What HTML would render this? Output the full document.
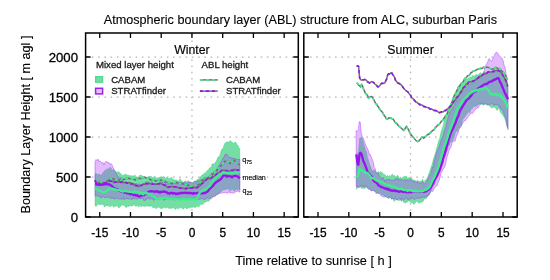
<!DOCTYPE html>
<html><head><meta charset="utf-8"><style>
html,body{margin:0;padding:0;background:#fff;}
svg{display:block;}
text{font-family:"Liberation Sans",Arial,sans-serif;fill:#000;stroke:#000;stroke-width:0.3px;}
.grid line{stroke:#b4b4b4;stroke-width:1.25;stroke-dasharray:1.6 4.65;}
.tk{stroke:#000;stroke-width:1.3;fill:none;}
.fr{stroke:#000;stroke-width:1.5;fill:none;}
.tl{font-size:13.2px;}
.xl{font-size:11.9px;}
.sm{stroke-width:0.12px;}
.lg{font-size:9.6px;fill:#1a1a1a;stroke:#1a1a1a;}
</style></head><body>
<svg width="550" height="280" viewBox="0 0 550 280">
<rect width="550" height="280" fill="#fff"/>
<text x="300.4" y="23.8" text-anchor="middle" style="font-size:12.62px;stroke-width:0.1px">Atmospheric boundary layer (ABL) structure from ALC, suburban Paris</text>
<g class="grid"><line x1="191.95" y1="217.0" x2="191.95" y2="33.0"/><line x1="85.6" y1="177.00" x2="298.3" y2="177.00"/><line x1="85.6" y1="137.00" x2="298.3" y2="137.00"/><line x1="85.6" y1="97.00" x2="298.3" y2="97.00"/><line x1="85.6" y1="57.00" x2="298.3" y2="57.00"/></g>
<g class="grid"><line x1="410.50" y1="217.0" x2="410.50" y2="33.0"/><line x1="303.8" y1="177.00" x2="517.2" y2="177.00"/><line x1="303.8" y1="137.00" x2="517.2" y2="137.00"/><line x1="303.8" y1="97.00" x2="517.2" y2="97.00"/><line x1="303.8" y1="57.00" x2="517.2" y2="57.00"/></g>
<path d="M95.0 174.4 L96.0 173.1 L97.0 174.8 L98.0 174.6 L99.0 173.9 L100.0 174.6 L101.0 175.8 L102.0 174.0 L103.0 172.5 L104.0 171.8 L105.0 170.0 L106.0 170.7 L107.0 168.5 L108.0 169.3 L109.0 168.7 L110.0 167.2 L111.0 167.9 L112.0 170.2 L113.0 169.7 L114.0 169.6 L115.0 170.9 L116.0 172.0 L117.0 171.9 L118.0 172.2 L119.0 171.5 L120.0 173.4 L121.0 173.8 L122.0 174.9 L123.0 175.5 L124.0 175.3 L125.0 174.0 L126.0 174.6 L127.0 174.8 L128.0 175.7 L129.0 174.8 L130.0 176.3 L131.0 175.5 L132.0 175.7 L133.0 176.1 L134.0 175.9 L135.0 174.7 L136.0 177.8 L137.0 177.3 L138.0 177.6 L139.0 176.0 L140.0 175.1 L141.0 175.2 L142.0 175.4 L143.0 176.8 L144.0 176.9 L145.0 177.4 L146.0 178.0 L147.0 176.9 L148.0 176.9 L149.0 176.5 L150.0 176.6 L151.0 176.1 L152.0 177.4 L153.0 177.4 L154.0 176.9 L155.0 176.7 L156.0 177.7 L157.0 178.4 L158.0 177.5 L159.0 177.6 L160.0 177.0 L161.0 177.1 L162.0 177.0 L163.0 176.9 L164.0 176.6 L165.0 177.5 L166.0 178.5 L167.0 177.1 L168.0 179.2 L169.0 178.1 L170.0 178.4 L171.0 177.4 L172.0 177.5 L173.0 180.2 L174.0 178.9 L175.0 180.4 L176.0 179.9 L177.0 180.2 L178.0 181.3 L179.0 180.5 L180.0 178.4 L181.0 179.9 L182.0 182.1 L183.0 182.9 L184.0 181.5 L185.0 181.1 L186.0 180.7 L187.0 182.2 L188.0 180.6 L189.0 181.1 L190.0 182.2 L191.0 182.3 L192.0 182.1 L193.0 183.2 L194.0 181.6 L195.0 180.9 L196.0 180.7 L197.0 180.0 L198.0 178.7 L199.0 179.6 L200.0 176.7 L201.0 176.8 L202.0 175.0 L203.0 174.8 L204.0 173.5 L205.0 172.7 L206.0 173.0 L207.0 170.3 L208.0 171.0 L209.0 168.4 L210.0 167.6 L211.0 167.8 L212.0 164.1 L213.0 163.7 L214.0 163.9 L215.0 162.8 L216.0 161.5 L217.0 159.4 L218.0 157.1 L219.0 156.8 L220.0 154.8 L221.0 151.2 L222.0 149.1 L223.0 148.4 L224.0 145.3 L225.0 143.1 L226.0 142.5 L227.0 141.8 L228.0 142.0 L229.0 142.1 L230.0 140.7 L231.0 140.9 L232.0 142.4 L233.0 142.7 L234.0 143.7 L235.0 141.8 L236.0 142.6 L237.0 145.3 L238.0 145.2 L239.0 147.7 L239.8 149.0 L239.8 190.2 L239.0 187.9 L238.0 189.8 L237.0 190.0 L236.0 188.7 L235.0 191.0 L234.0 191.2 L233.0 189.7 L232.0 188.9 L231.0 190.4 L230.0 190.9 L229.0 189.3 L228.0 188.8 L227.0 189.4 L226.0 189.1 L225.0 190.0 L224.0 189.7 L223.0 190.0 L222.0 191.0 L221.0 191.9 L220.0 192.2 L219.0 194.0 L218.0 193.4 L217.0 193.7 L216.0 196.0 L215.0 195.5 L214.0 195.5 L213.0 196.8 L212.0 197.1 L211.0 197.3 L210.0 200.2 L209.0 200.5 L208.0 201.8 L207.0 200.6 L206.0 202.1 L205.0 201.9 L204.0 203.0 L203.0 204.3 L202.0 204.6 L201.0 204.2 L200.0 204.5 L199.0 206.8 L198.0 206.3 L197.0 206.2 L196.0 206.9 L195.0 207.4 L194.0 207.3 L193.0 206.4 L192.0 208.0 L191.0 206.2 L190.0 208.3 L189.0 207.6 L188.0 207.9 L187.0 208.9 L186.0 208.2 L185.0 207.4 L184.0 208.5 L183.0 209.2 L182.0 208.1 L181.0 207.2 L180.0 207.5 L179.0 208.6 L178.0 209.0 L177.0 207.1 L176.0 209.2 L175.0 209.2 L174.0 208.3 L173.0 206.9 L172.0 208.6 L171.0 208.2 L170.0 208.3 L169.0 208.6 L168.0 207.8 L167.0 206.9 L166.0 208.5 L165.0 206.4 L164.0 207.7 L163.0 207.8 L162.0 208.7 L161.0 208.2 L160.0 208.3 L159.0 206.8 L158.0 207.5 L157.0 208.0 L156.0 208.7 L155.0 207.6 L154.0 207.2 L153.0 207.9 L152.0 205.9 L151.0 206.1 L150.0 206.4 L149.0 205.9 L148.0 206.3 L147.0 206.0 L146.0 206.3 L145.0 206.0 L144.0 206.7 L143.0 205.7 L142.0 206.1 L141.0 207.1 L140.0 204.6 L139.0 206.8 L138.0 206.4 L137.0 205.4 L136.0 206.2 L135.0 206.0 L134.0 203.7 L133.0 205.8 L132.0 206.1 L131.0 206.1 L130.0 205.4 L129.0 206.4 L128.0 206.2 L127.0 207.1 L126.0 207.4 L125.0 206.7 L124.0 204.5 L123.0 205.8 L122.0 204.5 L121.0 206.1 L120.0 206.7 L119.0 208.1 L118.0 207.2 L117.0 205.3 L116.0 206.5 L115.0 205.9 L114.0 207.1 L113.0 206.6 L112.0 205.5 L111.0 205.9 L110.0 207.1 L109.0 206.1 L108.0 205.8 L107.0 205.9 L106.0 204.9 L105.0 207.0 L104.0 206.5 L103.0 202.9 L102.0 204.9 L101.0 204.2 L100.0 205.1 L99.0 204.2 L98.0 204.0 L97.0 205.6 L96.0 206.6 L95.0 205.6Z" fill="#fff"/>
<path d="M95.0 162.3 L96.0 159.5 L97.0 160.7 L98.0 159.1 L99.0 161.8 L100.0 160.8 L101.0 162.2 L102.0 163.0 L103.0 162.4 L104.0 165.1 L105.0 162.3 L106.0 161.7 L107.0 161.6 L108.0 163.1 L109.0 162.4 L110.0 164.7 L111.0 163.5 L112.0 164.8 L113.0 167.3 L114.0 169.9 L115.0 171.0 L116.0 173.1 L117.0 174.9 L118.0 177.2 L119.0 177.2 L120.0 178.4 L121.0 177.3 L122.0 179.8 L123.0 180.5 L124.0 182.3 L125.0 182.7 L126.0 182.1 L127.0 182.5 L128.0 182.2 L129.0 181.8 L130.0 182.5 L131.0 182.4 L132.0 183.2 L133.0 183.7 L134.0 183.2 L135.0 184.5 L136.0 183.1 L137.0 184.3 L138.0 184.8 L139.0 183.6 L140.0 185.1 L141.0 184.8 L142.0 185.2 L143.0 183.5 L144.0 183.7 L145.0 183.5 L146.0 181.6 L147.0 182.8 L148.0 181.5 L149.0 182.9 L150.0 183.4 L151.0 183.1 L152.0 181.5 L153.0 184.3 L154.0 183.5 L155.0 184.1 L156.0 183.0 L157.0 182.9 L158.0 184.4 L159.0 182.3 L160.0 181.8 L161.0 182.0 L162.0 183.2 L163.0 181.4 L164.0 182.5 L165.0 182.2 L166.0 185.0 L167.0 184.1 L168.0 183.5 L169.0 183.7 L170.0 183.2 L171.0 183.0 L172.0 183.2 L173.0 184.6 L174.0 183.0 L175.0 182.9 L176.0 183.3 L177.0 184.1 L178.0 183.3 L179.0 182.1 L180.0 182.9 L181.0 182.8 L182.0 181.8 L183.0 182.2 L184.0 182.9 L185.0 182.3 L186.0 183.9 L187.0 182.9 L188.0 182.4 L189.0 182.7 L190.0 182.1 L191.0 182.4 L192.0 183.5 L193.0 182.9 L194.0 181.6 L195.0 181.5 L196.0 182.5 L197.0 180.8 L198.0 180.9 L199.0 181.5 L200.0 180.1 L201.0 179.5 L202.0 179.0 L203.0 179.6 L204.0 177.8 L205.0 177.0 L206.0 177.5 L207.0 178.2 L208.0 176.8 L209.0 177.2 L210.0 176.5 L211.0 173.7 L212.0 173.6 L213.0 172.5 L214.0 171.6 L215.0 171.3 L216.0 170.3 L217.0 168.6 L218.0 167.8 L219.0 165.0 L220.0 164.6 L221.0 161.7 L222.0 160.4 L223.0 157.8 L224.0 157.8 L225.0 154.5 L226.0 154.6 L227.0 154.2 L228.0 156.2 L229.0 157.4 L230.0 157.2 L231.0 157.7 L232.0 158.1 L233.0 158.3 L234.0 158.3 L235.0 158.2 L236.0 159.8 L237.0 159.3 L238.0 159.6 L239.0 160.1 L239.8 159.1 L239.8 192.0 L239.0 192.1 L238.0 190.5 L237.0 191.8 L236.0 191.3 L235.0 192.2 L234.0 193.3 L233.0 192.8 L232.0 192.8 L231.0 192.6 L230.0 193.2 L229.0 191.1 L228.0 193.2 L227.0 193.2 L226.0 192.5 L225.0 192.5 L224.0 193.0 L223.0 192.5 L222.0 192.6 L221.0 193.8 L220.0 192.5 L219.0 193.0 L218.0 194.7 L217.0 194.3 L216.0 194.4 L215.0 196.5 L214.0 197.1 L213.0 196.0 L212.0 198.4 L211.0 198.1 L210.0 197.9 L209.0 198.8 L208.0 197.6 L207.0 197.9 L206.0 198.7 L205.0 199.7 L204.0 199.2 L203.0 198.8 L202.0 198.5 L201.0 199.0 L200.0 198.8 L199.0 199.5 L198.0 199.1 L197.0 199.2 L196.0 199.0 L195.0 199.5 L194.0 197.4 L193.0 199.0 L192.0 198.3 L191.0 199.2 L190.0 199.6 L189.0 199.1 L188.0 199.8 L187.0 198.0 L186.0 198.3 L185.0 198.3 L184.0 199.1 L183.0 199.0 L182.0 199.7 L181.0 198.4 L180.0 198.3 L179.0 198.3 L178.0 198.3 L177.0 197.9 L176.0 199.6 L175.0 199.6 L174.0 200.2 L173.0 199.2 L172.0 199.5 L171.0 198.7 L170.0 200.2 L169.0 198.0 L168.0 199.3 L167.0 198.5 L166.0 199.5 L165.0 199.1 L164.0 200.6 L163.0 199.2 L162.0 198.6 L161.0 198.8 L160.0 198.9 L159.0 199.2 L158.0 200.1 L157.0 198.4 L156.0 199.0 L155.0 199.2 L154.0 200.5 L153.0 199.2 L152.0 198.5 L151.0 198.6 L150.0 199.3 L149.0 198.7 L148.0 197.4 L147.0 199.0 L146.0 199.9 L145.0 200.0 L144.0 200.8 L143.0 197.9 L142.0 198.3 L141.0 198.9 L140.0 198.5 L139.0 197.7 L138.0 198.8 L137.0 199.2 L136.0 198.5 L135.0 198.8 L134.0 199.1 L133.0 197.5 L132.0 199.8 L131.0 199.3 L130.0 198.3 L129.0 199.4 L128.0 198.4 L127.0 198.6 L126.0 198.2 L125.0 199.4 L124.0 199.5 L123.0 197.3 L122.0 199.5 L121.0 199.0 L120.0 198.3 L119.0 199.3 L118.0 198.6 L117.0 197.8 L116.0 197.9 L115.0 199.3 L114.0 198.2 L113.0 198.5 L112.0 197.8 L111.0 198.8 L110.0 196.5 L109.0 197.6 L108.0 197.8 L107.0 197.1 L106.0 197.0 L105.0 198.2 L104.0 196.9 L103.0 196.8 L102.0 196.6 L101.0 198.3 L100.0 196.5 L99.0 196.2 L98.0 196.0 L97.0 195.3 L96.0 196.0 L95.0 195.7Z" fill="#fff"/>
<path d="M95.0 174.4 L96.0 173.1 L97.0 174.8 L98.0 174.6 L99.0 173.9 L100.0 174.6 L101.0 175.8 L102.0 174.0 L103.0 172.5 L104.0 171.8 L105.0 170.0 L106.0 170.7 L107.0 168.5 L108.0 169.3 L109.0 168.7 L110.0 167.2 L111.0 167.9 L112.0 170.2 L113.0 169.7 L114.0 169.6 L115.0 170.9 L116.0 172.0 L117.0 171.9 L118.0 172.2 L119.0 171.5 L120.0 173.4 L121.0 173.8 L122.0 174.9 L123.0 175.5 L124.0 175.3 L125.0 174.0 L126.0 174.6 L127.0 174.8 L128.0 175.7 L129.0 174.8 L130.0 176.3 L131.0 175.5 L132.0 175.7 L133.0 176.1 L134.0 175.9 L135.0 174.7 L136.0 177.8 L137.0 177.3 L138.0 177.6 L139.0 176.0 L140.0 175.1 L141.0 175.2 L142.0 175.4 L143.0 176.8 L144.0 176.9 L145.0 177.4 L146.0 178.0 L147.0 176.9 L148.0 176.9 L149.0 176.5 L150.0 176.6 L151.0 176.1 L152.0 177.4 L153.0 177.4 L154.0 176.9 L155.0 176.7 L156.0 177.7 L157.0 178.4 L158.0 177.5 L159.0 177.6 L160.0 177.0 L161.0 177.1 L162.0 177.0 L163.0 176.9 L164.0 176.6 L165.0 177.5 L166.0 178.5 L167.0 177.1 L168.0 179.2 L169.0 178.1 L170.0 178.4 L171.0 177.4 L172.0 177.5 L173.0 180.2 L174.0 178.9 L175.0 180.4 L176.0 179.9 L177.0 180.2 L178.0 181.3 L179.0 180.5 L180.0 178.4 L181.0 179.9 L182.0 182.1 L183.0 182.9 L184.0 181.5 L185.0 181.1 L186.0 180.7 L187.0 182.2 L188.0 180.6 L189.0 181.1 L190.0 182.2 L191.0 182.3 L192.0 182.1 L193.0 183.2 L194.0 181.6 L195.0 180.9 L196.0 180.7 L197.0 180.0 L198.0 178.7 L199.0 179.6 L200.0 176.7 L201.0 176.8 L202.0 175.0 L203.0 174.8 L204.0 173.5 L205.0 172.7 L206.0 173.0 L207.0 170.3 L208.0 171.0 L209.0 168.4 L210.0 167.6 L211.0 167.8 L212.0 164.1 L213.0 163.7 L214.0 163.9 L215.0 162.8 L216.0 161.5 L217.0 159.4 L218.0 157.1 L219.0 156.8 L220.0 154.8 L221.0 151.2 L222.0 149.1 L223.0 148.4 L224.0 145.3 L225.0 143.1 L226.0 142.5 L227.0 141.8 L228.0 142.0 L229.0 142.1 L230.0 140.7 L231.0 140.9 L232.0 142.4 L233.0 142.7 L234.0 143.7 L235.0 141.8 L236.0 142.6 L237.0 145.3 L238.0 145.2 L239.0 147.7 L239.8 149.0 L239.8 190.2 L239.0 187.9 L238.0 189.8 L237.0 190.0 L236.0 188.7 L235.0 191.0 L234.0 191.2 L233.0 189.7 L232.0 188.9 L231.0 190.4 L230.0 190.9 L229.0 189.3 L228.0 188.8 L227.0 189.4 L226.0 189.1 L225.0 190.0 L224.0 189.7 L223.0 190.0 L222.0 191.0 L221.0 191.9 L220.0 192.2 L219.0 194.0 L218.0 193.4 L217.0 193.7 L216.0 196.0 L215.0 195.5 L214.0 195.5 L213.0 196.8 L212.0 197.1 L211.0 197.3 L210.0 200.2 L209.0 200.5 L208.0 201.8 L207.0 200.6 L206.0 202.1 L205.0 201.9 L204.0 203.0 L203.0 204.3 L202.0 204.6 L201.0 204.2 L200.0 204.5 L199.0 206.8 L198.0 206.3 L197.0 206.2 L196.0 206.9 L195.0 207.4 L194.0 207.3 L193.0 206.4 L192.0 208.0 L191.0 206.2 L190.0 208.3 L189.0 207.6 L188.0 207.9 L187.0 208.9 L186.0 208.2 L185.0 207.4 L184.0 208.5 L183.0 209.2 L182.0 208.1 L181.0 207.2 L180.0 207.5 L179.0 208.6 L178.0 209.0 L177.0 207.1 L176.0 209.2 L175.0 209.2 L174.0 208.3 L173.0 206.9 L172.0 208.6 L171.0 208.2 L170.0 208.3 L169.0 208.6 L168.0 207.8 L167.0 206.9 L166.0 208.5 L165.0 206.4 L164.0 207.7 L163.0 207.8 L162.0 208.7 L161.0 208.2 L160.0 208.3 L159.0 206.8 L158.0 207.5 L157.0 208.0 L156.0 208.7 L155.0 207.6 L154.0 207.2 L153.0 207.9 L152.0 205.9 L151.0 206.1 L150.0 206.4 L149.0 205.9 L148.0 206.3 L147.0 206.0 L146.0 206.3 L145.0 206.0 L144.0 206.7 L143.0 205.7 L142.0 206.1 L141.0 207.1 L140.0 204.6 L139.0 206.8 L138.0 206.4 L137.0 205.4 L136.0 206.2 L135.0 206.0 L134.0 203.7 L133.0 205.8 L132.0 206.1 L131.0 206.1 L130.0 205.4 L129.0 206.4 L128.0 206.2 L127.0 207.1 L126.0 207.4 L125.0 206.7 L124.0 204.5 L123.0 205.8 L122.0 204.5 L121.0 206.1 L120.0 206.7 L119.0 208.1 L118.0 207.2 L117.0 205.3 L116.0 206.5 L115.0 205.9 L114.0 207.1 L113.0 206.6 L112.0 205.5 L111.0 205.9 L110.0 207.1 L109.0 206.1 L108.0 205.8 L107.0 205.9 L106.0 204.9 L105.0 207.0 L104.0 206.5 L103.0 202.9 L102.0 204.9 L101.0 204.2 L100.0 205.1 L99.0 204.2 L98.0 204.0 L97.0 205.6 L96.0 206.6 L95.0 205.6Z" fill="rgba(4,195,91,0.55)" stroke="rgba(0,185,90,0.35)" stroke-width="0.8"/>
<path d="M95.0 162.3 L96.0 159.5 L97.0 160.7 L98.0 159.1 L99.0 161.8 L100.0 160.8 L101.0 162.2 L102.0 163.0 L103.0 162.4 L104.0 165.1 L105.0 162.3 L106.0 161.7 L107.0 161.6 L108.0 163.1 L109.0 162.4 L110.0 164.7 L111.0 163.5 L112.0 164.8 L113.0 167.3 L114.0 169.9 L115.0 171.0 L116.0 173.1 L117.0 174.9 L118.0 177.2 L119.0 177.2 L120.0 178.4 L121.0 177.3 L122.0 179.8 L123.0 180.5 L124.0 182.3 L125.0 182.7 L126.0 182.1 L127.0 182.5 L128.0 182.2 L129.0 181.8 L130.0 182.5 L131.0 182.4 L132.0 183.2 L133.0 183.7 L134.0 183.2 L135.0 184.5 L136.0 183.1 L137.0 184.3 L138.0 184.8 L139.0 183.6 L140.0 185.1 L141.0 184.8 L142.0 185.2 L143.0 183.5 L144.0 183.7 L145.0 183.5 L146.0 181.6 L147.0 182.8 L148.0 181.5 L149.0 182.9 L150.0 183.4 L151.0 183.1 L152.0 181.5 L153.0 184.3 L154.0 183.5 L155.0 184.1 L156.0 183.0 L157.0 182.9 L158.0 184.4 L159.0 182.3 L160.0 181.8 L161.0 182.0 L162.0 183.2 L163.0 181.4 L164.0 182.5 L165.0 182.2 L166.0 185.0 L167.0 184.1 L168.0 183.5 L169.0 183.7 L170.0 183.2 L171.0 183.0 L172.0 183.2 L173.0 184.6 L174.0 183.0 L175.0 182.9 L176.0 183.3 L177.0 184.1 L178.0 183.3 L179.0 182.1 L180.0 182.9 L181.0 182.8 L182.0 181.8 L183.0 182.2 L184.0 182.9 L185.0 182.3 L186.0 183.9 L187.0 182.9 L188.0 182.4 L189.0 182.7 L190.0 182.1 L191.0 182.4 L192.0 183.5 L193.0 182.9 L194.0 181.6 L195.0 181.5 L196.0 182.5 L197.0 180.8 L198.0 180.9 L199.0 181.5 L200.0 180.1 L201.0 179.5 L202.0 179.0 L203.0 179.6 L204.0 177.8 L205.0 177.0 L206.0 177.5 L207.0 178.2 L208.0 176.8 L209.0 177.2 L210.0 176.5 L211.0 173.7 L212.0 173.6 L213.0 172.5 L214.0 171.6 L215.0 171.3 L216.0 170.3 L217.0 168.6 L218.0 167.8 L219.0 165.0 L220.0 164.6 L221.0 161.7 L222.0 160.4 L223.0 157.8 L224.0 157.8 L225.0 154.5 L226.0 154.6 L227.0 154.2 L228.0 156.2 L229.0 157.4 L230.0 157.2 L231.0 157.7 L232.0 158.1 L233.0 158.3 L234.0 158.3 L235.0 158.2 L236.0 159.8 L237.0 159.3 L238.0 159.6 L239.0 160.1 L239.8 159.1 L239.8 192.0 L239.0 192.1 L238.0 190.5 L237.0 191.8 L236.0 191.3 L235.0 192.2 L234.0 193.3 L233.0 192.8 L232.0 192.8 L231.0 192.6 L230.0 193.2 L229.0 191.1 L228.0 193.2 L227.0 193.2 L226.0 192.5 L225.0 192.5 L224.0 193.0 L223.0 192.5 L222.0 192.6 L221.0 193.8 L220.0 192.5 L219.0 193.0 L218.0 194.7 L217.0 194.3 L216.0 194.4 L215.0 196.5 L214.0 197.1 L213.0 196.0 L212.0 198.4 L211.0 198.1 L210.0 197.9 L209.0 198.8 L208.0 197.6 L207.0 197.9 L206.0 198.7 L205.0 199.7 L204.0 199.2 L203.0 198.8 L202.0 198.5 L201.0 199.0 L200.0 198.8 L199.0 199.5 L198.0 199.1 L197.0 199.2 L196.0 199.0 L195.0 199.5 L194.0 197.4 L193.0 199.0 L192.0 198.3 L191.0 199.2 L190.0 199.6 L189.0 199.1 L188.0 199.8 L187.0 198.0 L186.0 198.3 L185.0 198.3 L184.0 199.1 L183.0 199.0 L182.0 199.7 L181.0 198.4 L180.0 198.3 L179.0 198.3 L178.0 198.3 L177.0 197.9 L176.0 199.6 L175.0 199.6 L174.0 200.2 L173.0 199.2 L172.0 199.5 L171.0 198.7 L170.0 200.2 L169.0 198.0 L168.0 199.3 L167.0 198.5 L166.0 199.5 L165.0 199.1 L164.0 200.6 L163.0 199.2 L162.0 198.6 L161.0 198.8 L160.0 198.9 L159.0 199.2 L158.0 200.1 L157.0 198.4 L156.0 199.0 L155.0 199.2 L154.0 200.5 L153.0 199.2 L152.0 198.5 L151.0 198.6 L150.0 199.3 L149.0 198.7 L148.0 197.4 L147.0 199.0 L146.0 199.9 L145.0 200.0 L144.0 200.8 L143.0 197.9 L142.0 198.3 L141.0 198.9 L140.0 198.5 L139.0 197.7 L138.0 198.8 L137.0 199.2 L136.0 198.5 L135.0 198.8 L134.0 199.1 L133.0 197.5 L132.0 199.8 L131.0 199.3 L130.0 198.3 L129.0 199.4 L128.0 198.4 L127.0 198.6 L126.0 198.2 L125.0 199.4 L124.0 199.5 L123.0 197.3 L122.0 199.5 L121.0 199.0 L120.0 198.3 L119.0 199.3 L118.0 198.6 L117.0 197.8 L116.0 197.9 L115.0 199.3 L114.0 198.2 L113.0 198.5 L112.0 197.8 L111.0 198.8 L110.0 196.5 L109.0 197.6 L108.0 197.8 L107.0 197.1 L106.0 197.0 L105.0 198.2 L104.0 196.9 L103.0 196.8 L102.0 196.6 L101.0 198.3 L100.0 196.5 L99.0 196.2 L98.0 196.0 L97.0 195.3 L96.0 196.0 L95.0 195.7Z" fill="rgba(176,64,250,0.36)" stroke="rgba(160,40,240,0.5)" stroke-width="0.8"/>
<path d="M95.0 181.0 L96.0 182.0 L97.0 181.8 L98.0 182.4 L99.0 182.3 L100.0 183.6 L101.0 182.7 L102.0 182.9 L103.0 182.5 L104.0 183.1 L105.0 182.3 L106.0 181.7 L107.0 181.5 L108.0 180.7 L109.0 179.9 L110.0 179.5 L111.0 178.5 L112.0 179.3 L113.0 178.6 L114.0 179.3 L115.0 179.7 L116.0 179.7 L117.0 180.3 L118.0 179.9 L119.0 180.2 L120.0 179.8 L121.0 180.6 L122.0 179.4 L123.0 179.8 L124.0 179.1 L125.0 179.2 L126.0 178.2 L127.0 178.4 L128.0 178.6 L129.0 178.3 L130.0 178.7 L131.0 178.9 L132.0 178.8 L133.0 178.9 L134.0 179.3 L135.0 180.1 L136.0 179.1 L137.0 179.4 L138.0 178.4 L139.0 178.5 L140.0 178.6 L141.0 178.6 L142.0 177.9 L143.0 177.8 L144.0 177.0 L145.0 177.2 L146.0 177.9 L147.0 177.8 L148.0 177.8 L149.0 177.9 L150.0 179.5 L151.0 180.0 L152.0 180.0 L153.0 180.4 L154.0 180.1 L155.0 180.9 L156.0 180.9 L157.0 180.6 L158.0 179.8 L159.0 180.0 L160.0 179.5 L161.0 180.5 L162.0 180.2 L163.0 181.1 L164.0 181.0 L165.0 181.0 L166.0 182.1 L167.0 182.6 L168.0 182.8 L169.0 182.5 L170.0 183.3 L171.0 183.5 L172.0 183.5 L173.0 183.1 L174.0 182.8 L175.0 182.5 L176.0 182.3 L177.0 182.4 L178.0 183.1 L179.0 183.4 L180.0 183.1 L181.0 183.2 L182.0 183.8 L183.0 183.9 L184.0 184.2 L185.0 184.1 L186.0 184.3 L187.0 185.2 L188.0 184.9 L189.0 185.8 L190.0 185.8 L191.0 186.4 L192.0 186.6 L193.0 187.0 L194.0 187.2 L195.0 187.5 L196.0 186.3 L197.0 185.6 L198.0 184.9 L199.0 184.5 L200.0 182.9 L201.0 181.8 L202.0 180.7 L203.0 180.3 L204.0 179.5 L205.0 178.9 L206.0 178.5 L207.0 178.3 L208.0 177.5 L209.0 177.2 L210.0 176.3 L211.0 175.9 L212.0 175.0 L213.0 174.0 L214.0 173.2 L215.0 171.7 L216.0 171.4 L217.0 169.9 L218.0 168.7 L219.0 167.9 L220.0 166.8 L221.0 165.6 L222.0 164.6 L223.0 163.7 L224.0 162.4 L225.0 161.4 L226.0 161.1 L227.0 161.5 L228.0 162.0 L229.0 163.0 L230.0 163.6 L231.0 161.9 L232.0 161.8 L233.0 160.8 L234.0 160.2 L235.0 161.3 L236.0 162.2 L237.0 162.7 L238.0 163.9 L239.0 164.4 L239.8 164.4" fill="none" stroke="#6e6e6e" stroke-width="1.5" stroke-linejoin="round"/>
<path d="M95.0 181.0 L96.0 182.0 L97.0 181.8 L98.0 182.4 L99.0 182.3 L100.0 183.6 L101.0 182.7 L102.0 182.9 L103.0 182.5 L104.0 183.1 L105.0 182.3 L106.0 181.7 L107.0 181.5 L108.0 180.7 L109.0 179.9 L110.0 179.5 L111.0 178.5 L112.0 179.3 L113.0 178.6 L114.0 179.3 L115.0 179.7 L116.0 179.7 L117.0 180.3 L118.0 179.9 L119.0 180.2 L120.0 179.8 L121.0 180.6 L122.0 179.4 L123.0 179.8 L124.0 179.1 L125.0 179.2 L126.0 178.2 L127.0 178.4 L128.0 178.6 L129.0 178.3 L130.0 178.7 L131.0 178.9 L132.0 178.8 L133.0 178.9 L134.0 179.3 L135.0 180.1 L136.0 179.1 L137.0 179.4 L138.0 178.4 L139.0 178.5 L140.0 178.6 L141.0 178.6 L142.0 177.9 L143.0 177.8 L144.0 177.0 L145.0 177.2 L146.0 177.9 L147.0 177.8 L148.0 177.8 L149.0 177.9 L150.0 179.5 L151.0 180.0 L152.0 180.0 L153.0 180.4 L154.0 180.1 L155.0 180.9 L156.0 180.9 L157.0 180.6 L158.0 179.8 L159.0 180.0 L160.0 179.5 L161.0 180.5 L162.0 180.2 L163.0 181.1 L164.0 181.0 L165.0 181.0 L166.0 182.1 L167.0 182.6 L168.0 182.8 L169.0 182.5 L170.0 183.3 L171.0 183.5 L172.0 183.5 L173.0 183.1 L174.0 182.8 L175.0 182.5 L176.0 182.3 L177.0 182.4 L178.0 183.1 L179.0 183.4 L180.0 183.1 L181.0 183.2 L182.0 183.8 L183.0 183.9 L184.0 184.2 L185.0 184.1 L186.0 184.3 L187.0 185.2 L188.0 184.9 L189.0 185.8 L190.0 185.8 L191.0 186.4 L192.0 186.6 L193.0 187.0 L194.0 187.2 L195.0 187.5 L196.0 186.3 L197.0 185.6 L198.0 184.9 L199.0 184.5 L200.0 182.9 L201.0 181.8 L202.0 180.7 L203.0 180.3 L204.0 179.5 L205.0 178.9 L206.0 178.5 L207.0 178.3 L208.0 177.5 L209.0 177.2 L210.0 176.3 L211.0 175.9 L212.0 175.0 L213.0 174.0 L214.0 173.2 L215.0 171.7 L216.0 171.4 L217.0 169.9 L218.0 168.7 L219.0 167.9 L220.0 166.8 L221.0 165.6 L222.0 164.6 L223.0 163.7 L224.0 162.4 L225.0 161.4 L226.0 161.1 L227.0 161.5 L228.0 162.0 L229.0 163.0 L230.0 163.6 L231.0 161.9 L232.0 161.8 L233.0 160.8 L234.0 160.2 L235.0 161.3 L236.0 162.2 L237.0 162.7 L238.0 163.9 L239.0 164.4 L239.8 164.4" fill="none" stroke="#3def8c" stroke-width="1.6" stroke-dasharray="3 3" stroke-linejoin="round"/>
<path d="M95.0 180.1 L96.0 182.2 L97.0 183.4 L98.0 184.5 L99.0 184.1 L100.0 184.0 L101.0 184.4 L102.0 184.4 L103.0 184.2 L104.0 183.9 L105.0 182.7 L106.0 182.6 L107.0 181.6 L108.0 180.8 L109.0 180.6 L110.0 181.3 L111.0 181.2 L112.0 181.1 L113.0 181.3 L114.0 182.7 L115.0 181.9 L116.0 182.1 L117.0 182.1 L118.0 182.3 L119.0 181.9 L120.0 182.1 L121.0 182.5 L122.0 181.9 L123.0 182.7 L124.0 182.5 L125.0 182.6 L126.0 182.5 L127.0 183.1 L128.0 182.9 L129.0 182.7 L130.0 182.8 L131.0 184.1 L132.0 183.6 L133.0 183.9 L134.0 185.2 L135.0 184.7 L136.0 185.8 L137.0 185.6 L138.0 185.9 L139.0 186.5 L140.0 185.5 L141.0 185.5 L142.0 185.2 L143.0 184.2 L144.0 184.1 L145.0 184.3 L146.0 183.6 L147.0 183.8 L148.0 183.6 L149.0 183.6 L150.0 183.5 L151.0 183.9 L152.0 184.2 L153.0 183.9 L154.0 184.3 L155.0 184.2 L156.0 184.4 L157.0 183.9 L158.0 184.0 L159.0 183.8 L160.0 183.6 L161.0 183.3 L162.0 184.3 L163.0 184.6 L164.0 184.7 L165.0 185.3 L166.0 186.3 L167.0 186.7 L168.0 187.4 L169.0 187.1 L170.0 186.8 L171.0 186.6 L172.0 186.5 L173.0 186.8 L174.0 186.9 L175.0 186.7 L176.0 186.8 L177.0 187.6 L178.0 187.3 L179.0 188.0 L180.0 188.1 L181.0 188.1 L182.0 188.6 L183.0 188.2 L184.0 188.3 L185.0 188.5 L186.0 189.0 L187.0 188.1 L188.0 188.2 L189.0 188.3 L190.0 187.9 L191.0 188.2 L192.0 187.7 L193.0 187.9 L194.0 187.6 L195.0 187.4 L196.0 187.6 L197.0 187.7 L198.0 186.8 L199.0 186.3 L200.0 185.8 L201.0 184.6 L202.0 183.3 L203.0 182.9 L204.0 181.6 L205.0 180.8 L206.0 179.7 L207.0 179.1 L208.0 178.7 L209.0 178.6 L210.0 178.5 L211.0 178.5 L212.0 177.3 L213.0 177.1 L214.0 176.4 L215.0 175.6 L216.0 174.7 L217.0 173.7 L218.0 172.7 L219.0 172.4 L220.0 171.9 L221.0 171.3 L222.0 170.3 L223.0 170.4 L224.0 170.6 L225.0 170.6 L226.0 170.6 L227.0 170.8 L228.0 171.2 L229.0 171.1 L230.0 171.4 L231.0 170.5 L232.0 170.4 L233.0 170.4 L234.0 169.6 L235.0 169.3 L236.0 169.9 L237.0 170.2 L238.0 169.9 L239.0 170.4 L239.8 170.7" fill="none" stroke="#6e6e6e" stroke-width="1.5" stroke-linejoin="round"/>
<path d="M95.0 180.1 L96.0 182.2 L97.0 183.4 L98.0 184.5 L99.0 184.1 L100.0 184.0 L101.0 184.4 L102.0 184.4 L103.0 184.2 L104.0 183.9 L105.0 182.7 L106.0 182.6 L107.0 181.6 L108.0 180.8 L109.0 180.6 L110.0 181.3 L111.0 181.2 L112.0 181.1 L113.0 181.3 L114.0 182.7 L115.0 181.9 L116.0 182.1 L117.0 182.1 L118.0 182.3 L119.0 181.9 L120.0 182.1 L121.0 182.5 L122.0 181.9 L123.0 182.7 L124.0 182.5 L125.0 182.6 L126.0 182.5 L127.0 183.1 L128.0 182.9 L129.0 182.7 L130.0 182.8 L131.0 184.1 L132.0 183.6 L133.0 183.9 L134.0 185.2 L135.0 184.7 L136.0 185.8 L137.0 185.6 L138.0 185.9 L139.0 186.5 L140.0 185.5 L141.0 185.5 L142.0 185.2 L143.0 184.2 L144.0 184.1 L145.0 184.3 L146.0 183.6 L147.0 183.8 L148.0 183.6 L149.0 183.6 L150.0 183.5 L151.0 183.9 L152.0 184.2 L153.0 183.9 L154.0 184.3 L155.0 184.2 L156.0 184.4 L157.0 183.9 L158.0 184.0 L159.0 183.8 L160.0 183.6 L161.0 183.3 L162.0 184.3 L163.0 184.6 L164.0 184.7 L165.0 185.3 L166.0 186.3 L167.0 186.7 L168.0 187.4 L169.0 187.1 L170.0 186.8 L171.0 186.6 L172.0 186.5 L173.0 186.8 L174.0 186.9 L175.0 186.7 L176.0 186.8 L177.0 187.6 L178.0 187.3 L179.0 188.0 L180.0 188.1 L181.0 188.1 L182.0 188.6 L183.0 188.2 L184.0 188.3 L185.0 188.5 L186.0 189.0 L187.0 188.1 L188.0 188.2 L189.0 188.3 L190.0 187.9 L191.0 188.2 L192.0 187.7 L193.0 187.9 L194.0 187.6 L195.0 187.4 L196.0 187.6 L197.0 187.7 L198.0 186.8 L199.0 186.3 L200.0 185.8 L201.0 184.6 L202.0 183.3 L203.0 182.9 L204.0 181.6 L205.0 180.8 L206.0 179.7 L207.0 179.1 L208.0 178.7 L209.0 178.6 L210.0 178.5 L211.0 178.5 L212.0 177.3 L213.0 177.1 L214.0 176.4 L215.0 175.6 L216.0 174.7 L217.0 173.7 L218.0 172.7 L219.0 172.4 L220.0 171.9 L221.0 171.3 L222.0 170.3 L223.0 170.4 L224.0 170.6 L225.0 170.6 L226.0 170.6 L227.0 170.8 L228.0 171.2 L229.0 171.1 L230.0 171.4 L231.0 170.5 L232.0 170.4 L233.0 170.4 L234.0 169.6 L235.0 169.3 L236.0 169.9 L237.0 170.2 L238.0 169.9 L239.0 170.4 L239.8 170.7" fill="none" stroke="#9b12ee" stroke-width="1.6" stroke-dasharray="3 3" stroke-linejoin="round"/>
<path d="M95.0 183.7 L96.0 183.8 L97.0 184.6 L98.0 184.7 L99.0 184.6 L100.0 184.8 L101.0 184.8 L102.0 184.5 L103.0 184.6 L104.0 184.5 L105.0 184.2 L106.0 184.2 L107.0 184.2 L108.0 184.5 L109.0 184.2 L110.0 185.0 L111.0 185.4 L112.0 186.1 L113.0 187.1 L114.0 188.0 L115.0 188.5 L116.0 189.2 L117.0 189.0 L118.0 189.4 L119.0 190.7 L120.0 191.0 L121.0 191.6 L122.0 191.3 L123.0 191.7 L124.0 192.7 L125.0 192.6 L126.0 192.6 L127.0 193.3 L128.0 193.4 L129.0 193.4 L130.0 194.2 L131.0 193.5 L132.0 194.3 L133.0 194.8 L134.0 195.0 L135.0 194.9 L136.0 195.6 L137.0 195.2 L138.0 196.0 L139.0 196.6 L140.0 196.2 L141.0 196.0 L142.0 195.5 L143.0 195.0 L144.0 195.3 L145.0 194.1 L146.0 193.3 L147.0 193.1 L148.0 192.2 L149.0 191.6 L150.0 191.3 L151.0 191.1 L152.0 191.4 L153.0 191.3 L154.0 191.3 L155.0 191.9 L156.0 191.5 L157.0 191.1 L158.0 192.2 L159.0 191.8 L160.0 192.5 L161.0 191.7 L162.0 191.9 L163.0 191.8 L164.0 191.4 L165.0 191.8 L166.0 192.0 L167.0 192.5 L168.0 193.4 L169.0 193.3 L170.0 193.5 L171.0 192.8 L172.0 192.9 L173.0 193.6 L174.0 193.0 L175.0 193.3 L176.0 194.1 L177.0 193.6 L178.0 193.4 L179.0 193.5 L180.0 193.3 L181.0 192.8 L182.0 193.0 L183.0 192.8 L184.0 192.8 L185.0 192.7 L186.0 192.9 L187.0 193.0 L188.0 192.8 L189.0 193.1 L190.0 192.8 L191.0 193.3 L192.0 193.2 L193.0 193.8 L194.0 193.0 L195.0 193.4 L196.0 193.3 L197.0 193.3 L198.0 192.7 L199.0 193.7 L200.0 193.5 L201.0 193.2 L202.0 193.4 L203.0 193.3 L204.0 193.0 L205.0 193.0 L206.0 192.3 L207.0 192.0 L208.0 191.1 L209.0 189.8 L210.0 188.4 L211.0 187.6 L212.0 186.7 L213.0 185.8 L214.0 184.2 L215.0 183.4 L216.0 182.3 L217.0 181.7 L218.0 180.9 L219.0 180.4 L220.0 179.7 L221.0 179.0 L222.0 177.8 L223.0 175.9 L224.0 175.3 L225.0 175.3 L226.0 176.0 L227.0 176.7 L228.0 175.9 L229.0 176.2 L230.0 176.4 L231.0 176.5 L232.0 177.3 L233.0 176.5 L234.0 176.0 L235.0 175.5 L236.0 176.1 L237.0 176.2 L238.0 176.7 L239.0 177.6 L239.8 178.4" fill="none" stroke="#9b12ee" stroke-width="2.3" stroke-linejoin="round"/>
<path d="M95.0 187.7 L96.0 188.8 L97.0 189.1 L98.0 189.5 L99.0 190.8 L100.0 190.6 L101.0 191.3 L102.0 192.3 L103.0 192.0 L104.0 192.6 L105.0 191.8 L106.0 191.7 L107.0 190.8 L108.0 189.7 L109.0 188.9 L110.0 188.7 L111.0 188.6 L112.0 189.2 L113.0 188.6 L114.0 189.6 L115.0 189.2 L116.0 189.6 L117.0 189.8 L118.0 190.0 L119.0 189.9 L120.0 190.6 L121.0 190.9 L122.0 191.3 L123.0 191.7 L124.0 190.9 L125.0 191.3 L126.0 190.9 L127.0 191.4 L128.0 191.6 L129.0 191.7 L130.0 192.0 L131.0 191.9 L132.0 191.8 L133.0 192.4 L134.0 191.4 L135.0 191.5 L136.0 191.7 L137.0 192.2 L138.0 192.2 L139.0 192.5 L140.0 193.2 L141.0 192.9 L142.0 193.2 L143.0 194.4 L144.0 193.1 L145.0 193.4 L146.0 192.7 L147.0 193.0 L148.0 193.6 L149.0 194.4 L150.0 193.9 L151.0 194.3 L152.0 195.3 L153.0 196.1 L154.0 196.7 L155.0 197.2 L156.0 198.4 L157.0 198.5 L158.0 198.8 L159.0 198.4 L160.0 198.8 L161.0 198.1 L162.0 198.6 L163.0 198.2 L164.0 198.0 L165.0 198.2 L166.0 197.8 L167.0 198.1 L168.0 198.9 L169.0 198.7 L170.0 199.2 L171.0 198.9 L172.0 198.6 L173.0 198.8 L174.0 198.9 L175.0 199.2 L176.0 199.1 L177.0 199.2 L178.0 198.9 L179.0 199.2 L180.0 199.7 L181.0 199.6 L182.0 199.0 L183.0 199.2 L184.0 199.0 L185.0 199.4 L186.0 199.2 L187.0 199.0 L188.0 199.3 L189.0 198.9 L190.0 199.2 L191.0 199.4 L192.0 199.5 L193.0 199.3 L194.0 199.0 L195.0 199.4 L196.0 199.4 L197.0 198.4 L198.0 196.2 L199.0 194.1 L200.0 192.3 L201.0 191.7 L202.0 190.9 L203.0 190.3 L204.0 189.8 L205.0 190.0 L206.0 188.8 L207.0 188.2 L208.0 187.2 L209.0 186.5 L210.0 185.7 L211.0 183.5 L212.0 182.0 L213.0 180.8 L214.0 179.7 L215.0 178.7 L216.0 177.4 L217.0 176.8 L218.0 176.1 L219.0 175.3 L220.0 174.5 L221.0 174.4 L222.0 173.3 L223.0 172.1 L224.0 173.3 L225.0 173.0 L226.0 172.6 L227.0 172.7 L228.0 173.4 L229.0 172.8 L230.0 172.9 L231.0 172.7 L232.0 173.6 L233.0 173.0 L234.0 173.4 L235.0 173.4 L236.0 172.9 L237.0 172.6 L238.0 172.6 L239.0 172.3 L239.8 172.8" fill="none" stroke="#3def8c" stroke-width="2.3" stroke-linejoin="round"/>
<path d="M356.5 156.4 L357.5 153.5 L358.5 151.4 L359.5 138.4 L360.5 137.8 L361.5 137.0 L362.5 138.9 L363.5 143.0 L364.5 146.4 L365.5 150.0 L366.5 152.1 L367.5 158.0 L368.5 160.3 L369.5 164.0 L370.5 166.3 L371.5 168.7 L372.5 172.0 L373.5 169.7 L374.5 170.3 L375.5 171.4 L376.5 172.8 L377.5 172.3 L378.5 171.6 L379.5 172.5 L380.5 171.6 L381.5 172.1 L382.5 172.8 L383.5 174.2 L384.5 174.3 L385.5 175.2 L386.5 176.5 L387.5 175.4 L388.5 176.9 L389.5 175.2 L390.5 177.6 L391.5 174.7 L392.5 174.1 L393.5 175.7 L394.5 175.5 L395.5 176.5 L396.5 176.8 L397.5 175.2 L398.5 176.6 L399.5 178.8 L400.5 176.9 L401.5 178.7 L402.5 177.5 L403.5 177.0 L404.5 176.3 L405.5 176.6 L406.5 176.1 L407.5 178.7 L408.5 177.6 L409.5 177.4 L410.5 178.9 L411.5 177.9 L412.5 179.5 L413.5 180.0 L414.5 180.6 L415.5 180.4 L416.5 181.3 L417.5 180.2 L418.5 180.9 L419.5 181.6 L420.5 180.9 L421.5 181.5 L422.5 179.0 L423.5 181.5 L424.5 181.2 L425.5 179.8 L426.5 179.2 L427.5 177.8 L428.5 174.3 L429.5 172.0 L430.5 168.8 L431.5 165.9 L432.5 162.8 L433.5 158.4 L434.5 155.8 L435.5 153.0 L436.5 148.7 L437.5 145.1 L438.5 141.2 L439.5 138.9 L440.5 134.1 L441.5 130.6 L442.5 127.8 L443.5 124.5 L444.5 118.1 L445.5 116.0 L446.5 114.7 L447.5 111.0 L448.5 109.7 L449.5 110.0 L450.5 105.8 L451.5 104.9 L452.5 102.5 L453.5 100.5 L454.5 96.9 L455.5 93.2 L456.5 90.2 L457.5 88.9 L458.5 85.7 L459.5 87.0 L460.5 83.7 L461.5 84.4 L462.5 82.9 L463.5 81.5 L464.5 80.7 L465.5 78.5 L466.5 78.7 L467.5 78.8 L468.5 77.9 L469.5 77.5 L470.5 77.0 L471.5 77.3 L472.5 75.5 L473.5 75.9 L474.5 76.1 L475.5 74.8 L476.5 74.2 L477.5 75.0 L478.5 74.7 L479.5 73.2 L480.5 72.8 L481.5 73.4 L482.5 73.6 L483.5 72.1 L484.5 71.7 L485.5 72.5 L486.5 74.0 L487.5 71.4 L488.5 71.2 L489.5 71.0 L490.5 72.6 L491.5 71.7 L492.5 70.4 L493.5 70.4 L494.5 70.1 L495.5 70.4 L496.5 70.5 L497.5 71.1 L498.5 70.1 L499.5 71.7 L500.5 70.6 L501.5 73.0 L502.5 74.2 L503.5 76.1 L504.5 76.2 L505.5 78.5 L506.5 80.9 L507.5 85.0 L508.0 86.2 L508.0 127.8 L507.5 127.8 L506.5 125.3 L505.5 121.0 L504.5 118.1 L503.5 116.2 L502.5 114.9 L501.5 113.4 L500.5 112.4 L499.5 109.8 L498.5 107.8 L497.5 110.3 L496.5 109.9 L495.5 107.5 L494.5 107.6 L493.5 107.2 L492.5 107.4 L491.5 108.1 L490.5 107.1 L489.5 105.7 L488.5 104.5 L487.5 105.4 L486.5 105.0 L485.5 102.9 L484.5 104.3 L483.5 105.0 L482.5 105.1 L481.5 103.4 L480.5 104.7 L479.5 103.7 L478.5 104.6 L477.5 105.2 L476.5 105.9 L475.5 106.5 L474.5 106.6 L473.5 106.0 L472.5 108.6 L471.5 108.5 L470.5 110.5 L469.5 113.0 L468.5 110.8 L467.5 113.6 L466.5 114.5 L465.5 116.2 L464.5 117.2 L463.5 118.8 L462.5 119.9 L461.5 125.6 L460.5 125.6 L459.5 127.8 L458.5 128.3 L457.5 131.2 L456.5 131.6 L455.5 132.0 L454.5 136.1 L453.5 139.2 L452.5 141.1 L451.5 141.8 L450.5 141.7 L449.5 144.9 L448.5 145.7 L447.5 149.5 L446.5 151.9 L445.5 154.9 L444.5 157.8 L443.5 159.0 L442.5 161.8 L441.5 165.0 L440.5 167.6 L439.5 171.7 L438.5 172.2 L437.5 176.8 L436.5 177.4 L435.5 180.7 L434.5 184.4 L433.5 185.8 L432.5 187.3 L431.5 190.3 L430.5 192.0 L429.5 194.4 L428.5 196.0 L427.5 195.9 L426.5 198.4 L425.5 198.8 L424.5 198.7 L423.5 200.8 L422.5 202.2 L421.5 201.9 L420.5 202.5 L419.5 203.1 L418.5 203.1 L417.5 202.2 L416.5 201.1 L415.5 202.5 L414.5 204.0 L413.5 204.2 L412.5 202.8 L411.5 202.8 L410.5 201.9 L409.5 201.3 L408.5 200.7 L407.5 202.1 L406.5 202.2 L405.5 203.3 L404.5 202.4 L403.5 202.2 L402.5 200.0 L401.5 201.4 L400.5 200.0 L399.5 200.4 L398.5 200.4 L397.5 200.0 L396.5 199.5 L395.5 199.5 L394.5 201.6 L393.5 200.3 L392.5 198.4 L391.5 199.4 L390.5 196.9 L389.5 196.9 L388.5 198.8 L387.5 197.8 L386.5 196.6 L385.5 196.9 L384.5 196.2 L383.5 195.2 L382.5 194.7 L381.5 195.0 L380.5 193.4 L379.5 192.6 L378.5 193.8 L377.5 192.7 L376.5 192.5 L375.5 191.6 L374.5 191.1 L373.5 190.7 L372.5 189.9 L371.5 191.1 L370.5 190.1 L369.5 188.7 L368.5 189.2 L367.5 188.8 L366.5 187.2 L365.5 187.5 L364.5 188.9 L363.5 188.2 L362.5 188.2 L361.5 188.7 L360.5 186.8 L359.5 187.4 L358.5 187.0 L357.5 187.4 L356.5 189.4Z" fill="#fff"/>
<path d="M356.2 130.6 L357.2 131.3 L358.2 130.5 L359.2 121.8 L360.2 121.9 L361.2 132.7 L362.2 136.3 L363.2 137.9 L364.2 140.6 L365.2 143.8 L366.2 146.1 L367.2 148.1 L368.2 150.1 L369.2 154.3 L370.2 154.3 L371.2 157.0 L372.2 159.4 L373.2 161.6 L374.2 167.6 L375.2 168.6 L376.2 172.8 L377.2 173.4 L378.2 173.0 L379.2 175.4 L380.2 176.9 L381.2 177.9 L382.2 179.4 L383.2 177.5 L384.2 179.5 L385.2 182.2 L386.2 179.6 L387.2 179.4 L388.2 180.0 L389.2 179.0 L390.2 180.5 L391.2 179.9 L392.2 180.3 L393.2 180.2 L394.2 180.7 L395.2 178.7 L396.2 179.4 L397.2 177.8 L398.2 180.1 L399.2 179.6 L400.2 179.9 L401.2 179.4 L402.2 179.7 L403.2 180.6 L404.2 179.8 L405.2 180.1 L406.2 179.8 L407.2 179.9 L408.2 180.6 L409.2 179.5 L410.2 179.7 L411.2 180.0 L412.2 180.8 L413.2 181.5 L414.2 181.3 L415.2 181.7 L416.2 182.8 L417.2 181.9 L418.2 182.2 L419.2 183.5 L420.2 182.9 L421.2 183.2 L422.2 181.8 L423.2 182.4 L424.2 184.4 L425.2 183.1 L426.2 182.2 L427.2 180.5 L428.2 177.7 L429.2 175.9 L430.2 174.5 L431.2 172.9 L432.2 167.3 L433.2 167.3 L434.2 161.4 L435.2 158.3 L436.2 153.2 L437.2 151.1 L438.2 149.2 L439.2 146.8 L440.2 143.0 L441.2 140.3 L442.2 137.7 L443.2 136.0 L444.2 131.0 L445.2 129.3 L446.2 126.0 L447.2 120.7 L448.2 117.4 L449.2 114.1 L450.2 111.4 L451.2 110.5 L452.2 108.2 L453.2 106.7 L454.2 105.7 L455.2 103.2 L456.2 101.8 L457.2 99.1 L458.2 96.8 L459.2 94.8 L460.2 93.3 L461.2 93.3 L462.2 90.9 L463.2 89.1 L464.2 87.1 L465.2 87.2 L466.2 87.8 L467.2 86.6 L468.2 85.4 L469.2 84.5 L470.2 84.4 L471.2 83.2 L472.2 83.1 L473.2 82.3 L474.2 81.6 L475.2 79.2 L476.2 77.6 L477.2 78.6 L478.2 76.3 L479.2 76.1 L480.2 76.4 L481.2 76.6 L482.2 75.5 L483.2 74.5 L484.2 70.5 L485.2 67.3 L486.2 64.5 L487.2 62.9 L488.2 60.6 L489.2 58.4 L490.2 60.3 L491.2 60.9 L492.2 60.8 L493.2 57.4 L494.2 55.9 L495.2 53.2 L496.2 52.2 L497.2 52.6 L498.2 53.9 L499.2 55.4 L500.2 56.4 L501.2 57.8 L502.2 58.4 L503.2 61.0 L504.2 65.5 L505.2 68.0 L506.2 75.2 L507.2 81.1 L508.0 90.9 L508.0 129.7 L507.2 126.2 L506.2 119.4 L505.2 116.9 L504.2 115.1 L503.2 110.5 L502.2 110.1 L501.2 109.3 L500.2 106.7 L499.2 107.3 L498.2 104.6 L497.2 104.3 L496.2 104.9 L495.2 103.9 L494.2 105.6 L493.2 104.1 L492.2 103.8 L491.2 103.0 L490.2 104.6 L489.2 104.8 L488.2 105.1 L487.2 104.0 L486.2 103.7 L485.2 104.2 L484.2 104.4 L483.2 104.0 L482.2 103.3 L481.2 104.0 L480.2 103.9 L479.2 105.8 L478.2 108.0 L477.2 107.5 L476.2 108.9 L475.2 109.4 L474.2 111.0 L473.2 112.4 L472.2 113.7 L471.2 112.8 L470.2 114.4 L469.2 115.3 L468.2 116.8 L467.2 118.4 L466.2 119.0 L465.2 120.9 L464.2 120.8 L463.2 122.7 L462.2 123.9 L461.2 126.5 L460.2 128.0 L459.2 128.9 L458.2 132.7 L457.2 134.7 L456.2 136.9 L455.2 141.1 L454.2 141.1 L453.2 142.1 L452.2 141.8 L451.2 146.7 L450.2 148.4 L449.2 150.1 L448.2 153.6 L447.2 156.6 L446.2 160.8 L445.2 165.3 L444.2 167.9 L443.2 169.0 L442.2 171.5 L441.2 172.1 L440.2 176.8 L439.2 180.2 L438.2 182.3 L437.2 185.6 L436.2 185.7 L435.2 187.4 L434.2 188.1 L433.2 190.6 L432.2 191.8 L431.2 190.6 L430.2 193.0 L429.2 194.3 L428.2 194.6 L427.2 196.6 L426.2 197.0 L425.2 196.1 L424.2 197.8 L423.2 197.2 L422.2 196.8 L421.2 198.0 L420.2 198.0 L419.2 197.9 L418.2 198.4 L417.2 198.0 L416.2 198.3 L415.2 199.3 L414.2 199.6 L413.2 198.7 L412.2 197.2 L411.2 199.1 L410.2 197.8 L409.2 200.0 L408.2 199.1 L407.2 199.3 L406.2 197.3 L405.2 198.8 L404.2 200.3 L403.2 199.4 L402.2 198.0 L401.2 200.2 L400.2 198.0 L399.2 198.7 L398.2 199.1 L397.2 199.9 L396.2 199.6 L395.2 197.9 L394.2 198.6 L393.2 199.3 L392.2 198.0 L391.2 198.7 L390.2 197.0 L389.2 197.7 L388.2 198.0 L387.2 197.2 L386.2 196.8 L385.2 196.5 L384.2 197.5 L383.2 196.8 L382.2 196.2 L381.2 196.1 L380.2 194.8 L379.2 193.2 L378.2 193.8 L377.2 192.1 L376.2 193.9 L375.2 191.1 L374.2 191.3 L373.2 190.0 L372.2 190.8 L371.2 190.9 L370.2 189.4 L369.2 189.4 L368.2 187.8 L367.2 186.9 L366.2 186.1 L365.2 187.0 L364.2 185.3 L363.2 186.9 L362.2 185.9 L361.2 185.8 L360.2 186.4 L359.2 187.1 L358.2 187.9 L357.2 186.2 L356.2 186.7Z" fill="#fff"/>
<path d="M356.5 156.4 L357.5 153.5 L358.5 151.4 L359.5 138.4 L360.5 137.8 L361.5 137.0 L362.5 138.9 L363.5 143.0 L364.5 146.4 L365.5 150.0 L366.5 152.1 L367.5 158.0 L368.5 160.3 L369.5 164.0 L370.5 166.3 L371.5 168.7 L372.5 172.0 L373.5 169.7 L374.5 170.3 L375.5 171.4 L376.5 172.8 L377.5 172.3 L378.5 171.6 L379.5 172.5 L380.5 171.6 L381.5 172.1 L382.5 172.8 L383.5 174.2 L384.5 174.3 L385.5 175.2 L386.5 176.5 L387.5 175.4 L388.5 176.9 L389.5 175.2 L390.5 177.6 L391.5 174.7 L392.5 174.1 L393.5 175.7 L394.5 175.5 L395.5 176.5 L396.5 176.8 L397.5 175.2 L398.5 176.6 L399.5 178.8 L400.5 176.9 L401.5 178.7 L402.5 177.5 L403.5 177.0 L404.5 176.3 L405.5 176.6 L406.5 176.1 L407.5 178.7 L408.5 177.6 L409.5 177.4 L410.5 178.9 L411.5 177.9 L412.5 179.5 L413.5 180.0 L414.5 180.6 L415.5 180.4 L416.5 181.3 L417.5 180.2 L418.5 180.9 L419.5 181.6 L420.5 180.9 L421.5 181.5 L422.5 179.0 L423.5 181.5 L424.5 181.2 L425.5 179.8 L426.5 179.2 L427.5 177.8 L428.5 174.3 L429.5 172.0 L430.5 168.8 L431.5 165.9 L432.5 162.8 L433.5 158.4 L434.5 155.8 L435.5 153.0 L436.5 148.7 L437.5 145.1 L438.5 141.2 L439.5 138.9 L440.5 134.1 L441.5 130.6 L442.5 127.8 L443.5 124.5 L444.5 118.1 L445.5 116.0 L446.5 114.7 L447.5 111.0 L448.5 109.7 L449.5 110.0 L450.5 105.8 L451.5 104.9 L452.5 102.5 L453.5 100.5 L454.5 96.9 L455.5 93.2 L456.5 90.2 L457.5 88.9 L458.5 85.7 L459.5 87.0 L460.5 83.7 L461.5 84.4 L462.5 82.9 L463.5 81.5 L464.5 80.7 L465.5 78.5 L466.5 78.7 L467.5 78.8 L468.5 77.9 L469.5 77.5 L470.5 77.0 L471.5 77.3 L472.5 75.5 L473.5 75.9 L474.5 76.1 L475.5 74.8 L476.5 74.2 L477.5 75.0 L478.5 74.7 L479.5 73.2 L480.5 72.8 L481.5 73.4 L482.5 73.6 L483.5 72.1 L484.5 71.7 L485.5 72.5 L486.5 74.0 L487.5 71.4 L488.5 71.2 L489.5 71.0 L490.5 72.6 L491.5 71.7 L492.5 70.4 L493.5 70.4 L494.5 70.1 L495.5 70.4 L496.5 70.5 L497.5 71.1 L498.5 70.1 L499.5 71.7 L500.5 70.6 L501.5 73.0 L502.5 74.2 L503.5 76.1 L504.5 76.2 L505.5 78.5 L506.5 80.9 L507.5 85.0 L508.0 86.2 L508.0 127.8 L507.5 127.8 L506.5 125.3 L505.5 121.0 L504.5 118.1 L503.5 116.2 L502.5 114.9 L501.5 113.4 L500.5 112.4 L499.5 109.8 L498.5 107.8 L497.5 110.3 L496.5 109.9 L495.5 107.5 L494.5 107.6 L493.5 107.2 L492.5 107.4 L491.5 108.1 L490.5 107.1 L489.5 105.7 L488.5 104.5 L487.5 105.4 L486.5 105.0 L485.5 102.9 L484.5 104.3 L483.5 105.0 L482.5 105.1 L481.5 103.4 L480.5 104.7 L479.5 103.7 L478.5 104.6 L477.5 105.2 L476.5 105.9 L475.5 106.5 L474.5 106.6 L473.5 106.0 L472.5 108.6 L471.5 108.5 L470.5 110.5 L469.5 113.0 L468.5 110.8 L467.5 113.6 L466.5 114.5 L465.5 116.2 L464.5 117.2 L463.5 118.8 L462.5 119.9 L461.5 125.6 L460.5 125.6 L459.5 127.8 L458.5 128.3 L457.5 131.2 L456.5 131.6 L455.5 132.0 L454.5 136.1 L453.5 139.2 L452.5 141.1 L451.5 141.8 L450.5 141.7 L449.5 144.9 L448.5 145.7 L447.5 149.5 L446.5 151.9 L445.5 154.9 L444.5 157.8 L443.5 159.0 L442.5 161.8 L441.5 165.0 L440.5 167.6 L439.5 171.7 L438.5 172.2 L437.5 176.8 L436.5 177.4 L435.5 180.7 L434.5 184.4 L433.5 185.8 L432.5 187.3 L431.5 190.3 L430.5 192.0 L429.5 194.4 L428.5 196.0 L427.5 195.9 L426.5 198.4 L425.5 198.8 L424.5 198.7 L423.5 200.8 L422.5 202.2 L421.5 201.9 L420.5 202.5 L419.5 203.1 L418.5 203.1 L417.5 202.2 L416.5 201.1 L415.5 202.5 L414.5 204.0 L413.5 204.2 L412.5 202.8 L411.5 202.8 L410.5 201.9 L409.5 201.3 L408.5 200.7 L407.5 202.1 L406.5 202.2 L405.5 203.3 L404.5 202.4 L403.5 202.2 L402.5 200.0 L401.5 201.4 L400.5 200.0 L399.5 200.4 L398.5 200.4 L397.5 200.0 L396.5 199.5 L395.5 199.5 L394.5 201.6 L393.5 200.3 L392.5 198.4 L391.5 199.4 L390.5 196.9 L389.5 196.9 L388.5 198.8 L387.5 197.8 L386.5 196.6 L385.5 196.9 L384.5 196.2 L383.5 195.2 L382.5 194.7 L381.5 195.0 L380.5 193.4 L379.5 192.6 L378.5 193.8 L377.5 192.7 L376.5 192.5 L375.5 191.6 L374.5 191.1 L373.5 190.7 L372.5 189.9 L371.5 191.1 L370.5 190.1 L369.5 188.7 L368.5 189.2 L367.5 188.8 L366.5 187.2 L365.5 187.5 L364.5 188.9 L363.5 188.2 L362.5 188.2 L361.5 188.7 L360.5 186.8 L359.5 187.4 L358.5 187.0 L357.5 187.4 L356.5 189.4Z" fill="rgba(4,195,91,0.55)" stroke="rgba(0,185,90,0.35)" stroke-width="0.8"/>
<path d="M356.2 130.6 L357.2 131.3 L358.2 130.5 L359.2 121.8 L360.2 121.9 L361.2 132.7 L362.2 136.3 L363.2 137.9 L364.2 140.6 L365.2 143.8 L366.2 146.1 L367.2 148.1 L368.2 150.1 L369.2 154.3 L370.2 154.3 L371.2 157.0 L372.2 159.4 L373.2 161.6 L374.2 167.6 L375.2 168.6 L376.2 172.8 L377.2 173.4 L378.2 173.0 L379.2 175.4 L380.2 176.9 L381.2 177.9 L382.2 179.4 L383.2 177.5 L384.2 179.5 L385.2 182.2 L386.2 179.6 L387.2 179.4 L388.2 180.0 L389.2 179.0 L390.2 180.5 L391.2 179.9 L392.2 180.3 L393.2 180.2 L394.2 180.7 L395.2 178.7 L396.2 179.4 L397.2 177.8 L398.2 180.1 L399.2 179.6 L400.2 179.9 L401.2 179.4 L402.2 179.7 L403.2 180.6 L404.2 179.8 L405.2 180.1 L406.2 179.8 L407.2 179.9 L408.2 180.6 L409.2 179.5 L410.2 179.7 L411.2 180.0 L412.2 180.8 L413.2 181.5 L414.2 181.3 L415.2 181.7 L416.2 182.8 L417.2 181.9 L418.2 182.2 L419.2 183.5 L420.2 182.9 L421.2 183.2 L422.2 181.8 L423.2 182.4 L424.2 184.4 L425.2 183.1 L426.2 182.2 L427.2 180.5 L428.2 177.7 L429.2 175.9 L430.2 174.5 L431.2 172.9 L432.2 167.3 L433.2 167.3 L434.2 161.4 L435.2 158.3 L436.2 153.2 L437.2 151.1 L438.2 149.2 L439.2 146.8 L440.2 143.0 L441.2 140.3 L442.2 137.7 L443.2 136.0 L444.2 131.0 L445.2 129.3 L446.2 126.0 L447.2 120.7 L448.2 117.4 L449.2 114.1 L450.2 111.4 L451.2 110.5 L452.2 108.2 L453.2 106.7 L454.2 105.7 L455.2 103.2 L456.2 101.8 L457.2 99.1 L458.2 96.8 L459.2 94.8 L460.2 93.3 L461.2 93.3 L462.2 90.9 L463.2 89.1 L464.2 87.1 L465.2 87.2 L466.2 87.8 L467.2 86.6 L468.2 85.4 L469.2 84.5 L470.2 84.4 L471.2 83.2 L472.2 83.1 L473.2 82.3 L474.2 81.6 L475.2 79.2 L476.2 77.6 L477.2 78.6 L478.2 76.3 L479.2 76.1 L480.2 76.4 L481.2 76.6 L482.2 75.5 L483.2 74.5 L484.2 70.5 L485.2 67.3 L486.2 64.5 L487.2 62.9 L488.2 60.6 L489.2 58.4 L490.2 60.3 L491.2 60.9 L492.2 60.8 L493.2 57.4 L494.2 55.9 L495.2 53.2 L496.2 52.2 L497.2 52.6 L498.2 53.9 L499.2 55.4 L500.2 56.4 L501.2 57.8 L502.2 58.4 L503.2 61.0 L504.2 65.5 L505.2 68.0 L506.2 75.2 L507.2 81.1 L508.0 90.9 L508.0 129.7 L507.2 126.2 L506.2 119.4 L505.2 116.9 L504.2 115.1 L503.2 110.5 L502.2 110.1 L501.2 109.3 L500.2 106.7 L499.2 107.3 L498.2 104.6 L497.2 104.3 L496.2 104.9 L495.2 103.9 L494.2 105.6 L493.2 104.1 L492.2 103.8 L491.2 103.0 L490.2 104.6 L489.2 104.8 L488.2 105.1 L487.2 104.0 L486.2 103.7 L485.2 104.2 L484.2 104.4 L483.2 104.0 L482.2 103.3 L481.2 104.0 L480.2 103.9 L479.2 105.8 L478.2 108.0 L477.2 107.5 L476.2 108.9 L475.2 109.4 L474.2 111.0 L473.2 112.4 L472.2 113.7 L471.2 112.8 L470.2 114.4 L469.2 115.3 L468.2 116.8 L467.2 118.4 L466.2 119.0 L465.2 120.9 L464.2 120.8 L463.2 122.7 L462.2 123.9 L461.2 126.5 L460.2 128.0 L459.2 128.9 L458.2 132.7 L457.2 134.7 L456.2 136.9 L455.2 141.1 L454.2 141.1 L453.2 142.1 L452.2 141.8 L451.2 146.7 L450.2 148.4 L449.2 150.1 L448.2 153.6 L447.2 156.6 L446.2 160.8 L445.2 165.3 L444.2 167.9 L443.2 169.0 L442.2 171.5 L441.2 172.1 L440.2 176.8 L439.2 180.2 L438.2 182.3 L437.2 185.6 L436.2 185.7 L435.2 187.4 L434.2 188.1 L433.2 190.6 L432.2 191.8 L431.2 190.6 L430.2 193.0 L429.2 194.3 L428.2 194.6 L427.2 196.6 L426.2 197.0 L425.2 196.1 L424.2 197.8 L423.2 197.2 L422.2 196.8 L421.2 198.0 L420.2 198.0 L419.2 197.9 L418.2 198.4 L417.2 198.0 L416.2 198.3 L415.2 199.3 L414.2 199.6 L413.2 198.7 L412.2 197.2 L411.2 199.1 L410.2 197.8 L409.2 200.0 L408.2 199.1 L407.2 199.3 L406.2 197.3 L405.2 198.8 L404.2 200.3 L403.2 199.4 L402.2 198.0 L401.2 200.2 L400.2 198.0 L399.2 198.7 L398.2 199.1 L397.2 199.9 L396.2 199.6 L395.2 197.9 L394.2 198.6 L393.2 199.3 L392.2 198.0 L391.2 198.7 L390.2 197.0 L389.2 197.7 L388.2 198.0 L387.2 197.2 L386.2 196.8 L385.2 196.5 L384.2 197.5 L383.2 196.8 L382.2 196.2 L381.2 196.1 L380.2 194.8 L379.2 193.2 L378.2 193.8 L377.2 192.1 L376.2 193.9 L375.2 191.1 L374.2 191.3 L373.2 190.0 L372.2 190.8 L371.2 190.9 L370.2 189.4 L369.2 189.4 L368.2 187.8 L367.2 186.9 L366.2 186.1 L365.2 187.0 L364.2 185.3 L363.2 186.9 L362.2 185.9 L361.2 185.8 L360.2 186.4 L359.2 187.1 L358.2 187.9 L357.2 186.2 L356.2 186.7Z" fill="rgba(176,64,250,0.36)" stroke="rgba(160,40,240,0.5)" stroke-width="0.8"/>
<path d="M356.6 82.9 L357.6 83.4 L358.6 85.0 L359.6 85.7 L360.6 86.9 L361.6 84.3 L362.6 86.2 L363.6 89.4 L364.6 91.4 L365.6 93.6 L366.6 94.2 L367.6 95.6 L368.6 98.3 L369.6 97.2 L370.6 96.7 L371.6 96.4 L372.6 97.6 L373.6 99.4 L374.6 101.3 L375.6 103.5 L376.6 104.0 L377.6 106.1 L378.6 107.2 L379.6 109.1 L380.6 110.3 L381.6 111.4 L382.6 112.6 L383.6 114.7 L384.6 115.9 L385.6 117.3 L386.6 119.2 L387.6 119.0 L388.6 118.1 L389.6 117.9 L390.6 117.7 L391.6 118.6 L392.6 118.7 L393.6 119.8 L394.6 121.4 L395.6 122.8 L396.6 123.2 L397.6 124.6 L398.6 126.0 L399.6 126.7 L400.6 127.5 L401.6 128.5 L402.6 129.2 L403.6 130.5 L404.6 129.3 L405.6 127.5 L406.6 126.3 L407.6 128.6 L408.6 129.8 L409.6 132.1 L410.6 133.9 L411.6 135.7 L412.6 136.4 L413.6 137.6 L414.6 138.9 L415.6 140.0 L416.6 141.0 L417.6 141.7 L418.6 141.1 L419.6 140.1 L420.6 138.9 L421.6 137.3 L422.6 137.0 L423.6 138.3 L424.6 137.4 L425.6 136.2 L426.6 135.7 L427.6 134.6 L428.6 134.6 L429.6 133.1 L430.6 132.7 L431.6 131.3 L432.6 130.6 L433.6 130.0 L434.6 128.7 L435.6 127.1 L436.6 126.7 L437.6 125.0 L438.6 124.9 L439.6 123.8 L440.6 122.5 L441.6 121.0 L442.6 120.3 L443.6 118.7 L444.6 117.4 L445.6 115.5 L446.6 114.9 L447.6 112.6 L448.6 110.5 L449.6 108.3 L450.6 105.2 L451.6 102.9 L452.6 100.0 L453.6 97.0 L454.6 94.8 L455.6 93.0 L456.6 91.2 L457.6 89.1 L458.6 86.8 L459.6 86.0 L460.6 84.1 L461.6 82.9 L462.6 82.4 L463.6 80.9 L464.6 78.8 L465.6 77.8 L466.6 77.0 L467.6 75.8 L468.6 75.5 L469.6 75.0 L470.6 73.0 L471.6 72.5 L472.6 71.6 L473.6 70.9 L474.6 70.7 L475.6 70.3 L476.6 69.8 L477.6 69.2 L478.6 69.0 L479.6 68.7 L480.6 68.3 L481.6 68.4 L482.6 68.3 L483.6 67.1 L484.6 67.7 L485.6 67.4 L486.6 67.3 L487.6 67.3 L488.6 67.5 L489.6 67.9 L490.6 69.0 L491.6 69.3 L492.6 69.0 L493.6 69.1 L494.6 68.1 L495.6 67.2 L496.6 67.8 L497.6 68.1 L498.6 69.2 L499.6 68.5 L500.6 69.9 L501.6 70.8 L502.6 71.9 L503.6 72.7 L504.6 74.1 L505.6 75.4 L506.6 77.7 L507.6 79.1 L508.0 79.2" fill="none" stroke="#6e6e6e" stroke-width="1.5" stroke-linejoin="round"/>
<path d="M356.6 82.9 L357.6 83.4 L358.6 85.0 L359.6 85.7 L360.6 86.9 L361.6 84.3 L362.6 86.2 L363.6 89.4 L364.6 91.4 L365.6 93.6 L366.6 94.2 L367.6 95.6 L368.6 98.3 L369.6 97.2 L370.6 96.7 L371.6 96.4 L372.6 97.6 L373.6 99.4 L374.6 101.3 L375.6 103.5 L376.6 104.0 L377.6 106.1 L378.6 107.2 L379.6 109.1 L380.6 110.3 L381.6 111.4 L382.6 112.6 L383.6 114.7 L384.6 115.9 L385.6 117.3 L386.6 119.2 L387.6 119.0 L388.6 118.1 L389.6 117.9 L390.6 117.7 L391.6 118.6 L392.6 118.7 L393.6 119.8 L394.6 121.4 L395.6 122.8 L396.6 123.2 L397.6 124.6 L398.6 126.0 L399.6 126.7 L400.6 127.5 L401.6 128.5 L402.6 129.2 L403.6 130.5 L404.6 129.3 L405.6 127.5 L406.6 126.3 L407.6 128.6 L408.6 129.8 L409.6 132.1 L410.6 133.9 L411.6 135.7 L412.6 136.4 L413.6 137.6 L414.6 138.9 L415.6 140.0 L416.6 141.0 L417.6 141.7 L418.6 141.1 L419.6 140.1 L420.6 138.9 L421.6 137.3 L422.6 137.0 L423.6 138.3 L424.6 137.4 L425.6 136.2 L426.6 135.7 L427.6 134.6 L428.6 134.6 L429.6 133.1 L430.6 132.7 L431.6 131.3 L432.6 130.6 L433.6 130.0 L434.6 128.7 L435.6 127.1 L436.6 126.7 L437.6 125.0 L438.6 124.9 L439.6 123.8 L440.6 122.5 L441.6 121.0 L442.6 120.3 L443.6 118.7 L444.6 117.4 L445.6 115.5 L446.6 114.9 L447.6 112.6 L448.6 110.5 L449.6 108.3 L450.6 105.2 L451.6 102.9 L452.6 100.0 L453.6 97.0 L454.6 94.8 L455.6 93.0 L456.6 91.2 L457.6 89.1 L458.6 86.8 L459.6 86.0 L460.6 84.1 L461.6 82.9 L462.6 82.4 L463.6 80.9 L464.6 78.8 L465.6 77.8 L466.6 77.0 L467.6 75.8 L468.6 75.5 L469.6 75.0 L470.6 73.0 L471.6 72.5 L472.6 71.6 L473.6 70.9 L474.6 70.7 L475.6 70.3 L476.6 69.8 L477.6 69.2 L478.6 69.0 L479.6 68.7 L480.6 68.3 L481.6 68.4 L482.6 68.3 L483.6 67.1 L484.6 67.7 L485.6 67.4 L486.6 67.3 L487.6 67.3 L488.6 67.5 L489.6 67.9 L490.6 69.0 L491.6 69.3 L492.6 69.0 L493.6 69.1 L494.6 68.1 L495.6 67.2 L496.6 67.8 L497.6 68.1 L498.6 69.2 L499.6 68.5 L500.6 69.9 L501.6 70.8 L502.6 71.9 L503.6 72.7 L504.6 74.1 L505.6 75.4 L506.6 77.7 L507.6 79.1 L508.0 79.2" fill="none" stroke="#3def8c" stroke-width="1.6" stroke-dasharray="3 3" stroke-linejoin="round"/>
<path d="M356.6 65.7 L357.6 66.1 L358.6 66.2 L359.6 77.7 L360.6 79.8 L361.6 79.9 L362.6 79.8 L363.6 79.9 L364.6 79.4 L365.6 79.9 L366.6 80.4 L367.6 82.1 L368.6 82.2 L369.6 83.2 L370.6 82.1 L371.6 81.6 L372.6 82.1 L373.6 82.4 L374.6 83.8 L375.6 84.7 L376.6 85.3 L377.6 86.7 L378.6 86.7 L379.6 85.8 L380.6 84.5 L381.6 83.3 L382.6 83.4 L383.6 83.3 L384.6 83.1 L385.6 81.2 L386.6 79.2 L387.6 75.1 L388.6 73.8 L389.6 74.2 L390.6 72.9 L391.6 72.7 L392.6 74.4 L393.6 75.7 L394.6 77.5 L395.6 80.5 L396.6 81.4 L397.6 83.1 L398.6 83.2 L399.6 83.8 L400.6 84.4 L401.6 85.3 L402.6 86.7 L403.6 88.1 L404.6 89.5 L405.6 90.2 L406.6 91.1 L407.6 91.6 L408.6 92.9 L409.6 94.4 L410.6 95.3 L411.6 97.5 L412.6 98.4 L413.6 99.3 L414.6 100.6 L415.6 101.8 L416.6 102.1 L417.6 103.1 L418.6 103.5 L419.6 104.7 L420.6 104.6 L421.6 105.1 L422.6 105.2 L423.6 106.4 L424.6 106.6 L425.6 107.0 L426.6 107.3 L427.6 107.5 L428.6 107.7 L429.6 108.8 L430.6 109.2 L431.6 109.1 L432.6 109.5 L433.6 110.4 L434.6 110.4 L435.6 110.5 L436.6 111.0 L437.6 111.5 L438.6 112.3 L439.6 112.7 L440.6 112.3 L441.6 111.7 L442.6 112.1 L443.6 111.5 L444.6 110.5 L445.6 110.6 L446.6 109.6 L447.6 108.8 L448.6 107.9 L449.6 106.7 L450.6 106.3 L451.6 105.4 L452.6 103.7 L453.6 101.9 L454.6 100.8 L455.6 99.3 L456.6 97.5 L457.6 96.9 L458.6 95.5 L459.6 94.2 L460.6 92.3 L461.6 91.1 L462.6 88.9 L463.6 87.4 L464.6 86.7 L465.6 85.2 L466.6 83.9 L467.6 83.7 L468.6 82.3 L469.6 81.7 L470.6 81.9 L471.6 81.5 L472.6 81.3 L473.6 80.7 L474.6 80.6 L475.6 80.0 L476.6 79.2 L477.6 78.3 L478.6 77.7 L479.6 76.2 L480.6 76.4 L481.6 75.6 L482.6 75.0 L483.6 74.2 L484.6 74.3 L485.6 73.5 L486.6 73.6 L487.6 72.3 L488.6 71.9 L489.6 72.1 L490.6 72.1 L491.6 71.9 L492.6 71.4 L493.6 71.8 L494.6 70.9 L495.6 70.4 L496.6 70.3 L497.6 70.4 L498.6 70.8 L499.6 71.2 L500.6 71.8 L501.6 73.2 L502.6 74.8 L503.6 76.5 L504.6 78.5 L505.6 80.1 L506.6 82.9 L507.6 85.9 L508.0 86.3" fill="none" stroke="#6e6e6e" stroke-width="1.5" stroke-linejoin="round"/>
<path d="M356.6 65.7 L357.6 66.1 L358.6 66.2 L359.6 77.7 L360.6 79.8 L361.6 79.9 L362.6 79.8 L363.6 79.9 L364.6 79.4 L365.6 79.9 L366.6 80.4 L367.6 82.1 L368.6 82.2 L369.6 83.2 L370.6 82.1 L371.6 81.6 L372.6 82.1 L373.6 82.4 L374.6 83.8 L375.6 84.7 L376.6 85.3 L377.6 86.7 L378.6 86.7 L379.6 85.8 L380.6 84.5 L381.6 83.3 L382.6 83.4 L383.6 83.3 L384.6 83.1 L385.6 81.2 L386.6 79.2 L387.6 75.1 L388.6 73.8 L389.6 74.2 L390.6 72.9 L391.6 72.7 L392.6 74.4 L393.6 75.7 L394.6 77.5 L395.6 80.5 L396.6 81.4 L397.6 83.1 L398.6 83.2 L399.6 83.8 L400.6 84.4 L401.6 85.3 L402.6 86.7 L403.6 88.1 L404.6 89.5 L405.6 90.2 L406.6 91.1 L407.6 91.6 L408.6 92.9 L409.6 94.4 L410.6 95.3 L411.6 97.5 L412.6 98.4 L413.6 99.3 L414.6 100.6 L415.6 101.8 L416.6 102.1 L417.6 103.1 L418.6 103.5 L419.6 104.7 L420.6 104.6 L421.6 105.1 L422.6 105.2 L423.6 106.4 L424.6 106.6 L425.6 107.0 L426.6 107.3 L427.6 107.5 L428.6 107.7 L429.6 108.8 L430.6 109.2 L431.6 109.1 L432.6 109.5 L433.6 110.4 L434.6 110.4 L435.6 110.5 L436.6 111.0 L437.6 111.5 L438.6 112.3 L439.6 112.7 L440.6 112.3 L441.6 111.7 L442.6 112.1 L443.6 111.5 L444.6 110.5 L445.6 110.6 L446.6 109.6 L447.6 108.8 L448.6 107.9 L449.6 106.7 L450.6 106.3 L451.6 105.4 L452.6 103.7 L453.6 101.9 L454.6 100.8 L455.6 99.3 L456.6 97.5 L457.6 96.9 L458.6 95.5 L459.6 94.2 L460.6 92.3 L461.6 91.1 L462.6 88.9 L463.6 87.4 L464.6 86.7 L465.6 85.2 L466.6 83.9 L467.6 83.7 L468.6 82.3 L469.6 81.7 L470.6 81.9 L471.6 81.5 L472.6 81.3 L473.6 80.7 L474.6 80.6 L475.6 80.0 L476.6 79.2 L477.6 78.3 L478.6 77.7 L479.6 76.2 L480.6 76.4 L481.6 75.6 L482.6 75.0 L483.6 74.2 L484.6 74.3 L485.6 73.5 L486.6 73.6 L487.6 72.3 L488.6 71.9 L489.6 72.1 L490.6 72.1 L491.6 71.9 L492.6 71.4 L493.6 71.8 L494.6 70.9 L495.6 70.4 L496.6 70.3 L497.6 70.4 L498.6 70.8 L499.6 71.2 L500.6 71.8 L501.6 73.2 L502.6 74.8 L503.6 76.5 L504.6 78.5 L505.6 80.1 L506.6 82.9 L507.6 85.9 L508.0 86.3" fill="none" stroke="#9b12ee" stroke-width="1.6" stroke-dasharray="3 3" stroke-linejoin="round"/>
<path d="M356.3 154.4 L357.3 161.9 L358.3 164.8 L359.3 155.6 L360.3 152.7 L361.3 153.7 L362.3 156.9 L363.3 161.0 L364.3 162.9 L365.3 165.6 L366.3 168.1 L367.3 171.1 L368.3 173.4 L369.3 173.8 L370.3 175.6 L371.3 176.1 L372.3 177.5 L373.3 180.3 L374.3 181.4 L375.3 182.1 L376.3 182.4 L377.3 183.6 L378.3 185.2 L379.3 185.9 L380.3 186.3 L381.3 187.1 L382.3 187.4 L383.3 187.7 L384.3 188.3 L385.3 188.5 L386.3 188.5 L387.3 189.5 L388.3 188.8 L389.3 189.9 L390.3 190.4 L391.3 190.3 L392.3 190.9 L393.3 190.7 L394.3 190.3 L395.3 191.0 L396.3 190.9 L397.3 191.1 L398.3 191.5 L399.3 191.8 L400.3 191.1 L401.3 191.4 L402.3 191.6 L403.3 192.0 L404.3 191.3 L405.3 192.0 L406.3 192.1 L407.3 192.3 L408.3 192.3 L409.3 192.2 L410.3 192.2 L411.3 192.4 L412.3 191.6 L413.3 191.2 L414.3 191.6 L415.3 191.2 L416.3 191.4 L417.3 191.4 L418.3 191.2 L419.3 191.6 L420.3 191.2 L421.3 191.3 L422.3 191.4 L423.3 191.8 L424.3 191.9 L425.3 191.4 L426.3 191.1 L427.3 189.8 L428.3 190.1 L429.3 188.8 L430.3 188.1 L431.3 186.6 L432.3 184.7 L433.3 183.0 L434.3 180.3 L435.3 178.8 L436.3 177.1 L437.3 175.6 L438.3 173.0 L439.3 171.0 L440.3 168.4 L441.3 165.3 L442.3 162.5 L443.3 158.0 L444.3 155.2 L445.3 151.6 L446.3 148.0 L447.3 144.5 L448.3 141.0 L449.3 137.9 L450.3 134.5 L451.3 131.8 L452.3 130.0 L453.3 127.9 L454.3 125.4 L455.3 123.4 L456.3 120.5 L457.3 117.7 L458.3 116.2 L459.3 112.7 L460.3 110.2 L461.3 108.8 L462.3 106.8 L463.3 105.4 L464.3 103.7 L465.3 102.4 L466.3 100.2 L467.3 99.4 L468.3 98.8 L469.3 98.0 L470.3 96.4 L471.3 95.9 L472.3 93.6 L473.3 92.6 L474.3 91.7 L475.3 91.6 L476.3 89.9 L477.3 89.4 L478.3 88.4 L479.3 87.9 L480.3 87.0 L481.3 86.4 L482.3 85.9 L483.3 85.1 L484.3 84.4 L485.3 84.2 L486.3 84.2 L487.3 83.8 L488.3 82.5 L489.3 82.0 L490.3 81.7 L491.3 81.3 L492.3 81.2 L493.3 80.1 L494.3 79.6 L495.3 79.5 L496.3 78.8 L497.3 78.3 L498.3 78.0 L499.3 80.1 L500.3 82.6 L501.3 84.2 L502.3 86.8 L503.3 89.1 L504.3 91.7 L505.3 93.7 L506.3 95.6 L507.3 97.6 L508.0 99.2" fill="none" stroke="#9b12ee" stroke-width="2.3" stroke-linejoin="round"/>
<path d="M356.5 177.4 L357.5 176.4 L358.5 173.8 L359.5 168.9 L360.5 169.9 L361.5 169.9 L362.5 171.1 L363.5 171.8 L364.5 171.7 L365.5 173.0 L366.5 172.9 L367.5 172.9 L368.5 174.1 L369.5 175.2 L370.5 176.7 L371.5 178.3 L372.5 178.0 L373.5 178.2 L374.5 179.0 L375.5 180.1 L376.5 180.2 L377.5 181.2 L378.5 180.9 L379.5 181.1 L380.5 182.0 L381.5 181.8 L382.5 182.4 L383.5 183.4 L384.5 183.4 L385.5 184.0 L386.5 184.5 L387.5 184.9 L388.5 185.4 L389.5 185.3 L390.5 186.2 L391.5 186.2 L392.5 185.9 L393.5 186.9 L394.5 187.1 L395.5 187.4 L396.5 188.1 L397.5 188.3 L398.5 188.4 L399.5 189.2 L400.5 189.0 L401.5 188.5 L402.5 189.5 L403.5 189.7 L404.5 190.2 L405.5 190.1 L406.5 189.9 L407.5 191.1 L408.5 190.0 L409.5 190.4 L410.5 190.4 L411.5 190.7 L412.5 191.0 L413.5 191.1 L414.5 190.5 L415.5 191.3 L416.5 190.9 L417.5 191.2 L418.5 191.3 L419.5 191.2 L420.5 190.8 L421.5 191.1 L422.5 191.2 L423.5 190.9 L424.5 190.0 L425.5 189.9 L426.5 189.4 L427.5 189.0 L428.5 188.0 L429.5 187.0 L430.5 185.1 L431.5 182.6 L432.5 180.5 L433.5 178.7 L434.5 176.9 L435.5 174.3 L436.5 172.1 L437.5 169.3 L438.5 166.3 L439.5 162.7 L440.5 159.5 L441.5 156.2 L442.5 152.8 L443.5 148.6 L444.5 145.8 L445.5 143.3 L446.5 140.6 L447.5 137.1 L448.5 133.8 L449.5 131.3 L450.5 128.1 L451.5 125.3 L452.5 122.9 L453.5 119.7 L454.5 117.3 L455.5 114.0 L456.5 111.5 L457.5 108.7 L458.5 107.0 L459.5 106.1 L460.5 104.1 L461.5 102.9 L462.5 100.8 L463.5 99.4 L464.5 98.6 L465.5 97.7 L466.5 97.0 L467.5 95.3 L468.5 94.3 L469.5 93.8 L470.5 92.7 L471.5 92.7 L472.5 91.6 L473.5 91.5 L474.5 91.0 L475.5 90.7 L476.5 89.6 L477.5 89.8 L478.5 90.0 L479.5 89.2 L480.5 89.0 L481.5 88.9 L482.5 89.3 L483.5 88.7 L484.5 88.3 L485.5 88.0 L486.5 88.5 L487.5 89.4 L488.5 90.0 L489.5 91.9 L490.5 93.6 L491.5 94.4 L492.5 94.6 L493.5 94.2 L494.5 94.2 L495.5 94.8 L496.5 94.0 L497.5 95.5 L498.5 95.2 L499.5 95.2 L500.5 95.5 L501.5 97.0 L502.5 97.5 L503.5 99.2 L504.5 100.2 L505.5 102.4 L506.5 104.2 L507.5 107.3 L508.0 108.1" fill="none" stroke="#3def8c" stroke-width="2.3" stroke-linejoin="round"/>
<path class="tk" d="M99.74 217.0v-5M99.74 33.0v5M130.48 217.0v-5M130.48 33.0v5M161.21 217.0v-5M161.21 33.0v5M191.95 217.0v-5M191.95 33.0v5M222.69 217.0v-5M222.69 33.0v5M253.42 217.0v-5M253.42 33.0v5M284.16 217.0v-5M284.16 33.0v5M85.6 217.00h5M298.3 217.00h-5M85.6 177.00h5M298.3 177.00h-5M85.6 137.00h5M298.3 137.00h-5M85.6 97.00h5M298.3 97.00h-5M85.6 57.00h5M298.3 57.00h-5"/>
<rect class="fr" x="85.6" y="33.0" width="212.70" height="184.0"/>
<text class="xl" x="99.74" y="236.7" text-anchor="middle">-15</text>
<text class="xl" x="130.48" y="236.7" text-anchor="middle">-10</text>
<text class="xl" x="161.21" y="236.7" text-anchor="middle">-5</text>
<text class="xl" x="191.95" y="236.7" text-anchor="middle">0</text>
<text class="xl" x="222.69" y="236.7" text-anchor="middle">5</text>
<text class="xl" x="253.42" y="236.7" text-anchor="middle">10</text>
<text class="xl" x="284.16" y="236.7" text-anchor="middle">15</text>
<path class="tk" d="M317.99 217.0v-5M317.99 33.0v5M348.82 217.0v-5M348.82 33.0v5M379.66 217.0v-5M379.66 33.0v5M410.50 217.0v-5M410.50 33.0v5M441.34 217.0v-5M441.34 33.0v5M472.18 217.0v-5M472.18 33.0v5M503.01 217.0v-5M503.01 33.0v5M303.8 217.00h5M517.2 217.00h-5M303.8 177.00h5M517.2 177.00h-5M303.8 137.00h5M517.2 137.00h-5M303.8 97.00h5M517.2 97.00h-5M303.8 57.00h5M517.2 57.00h-5"/>
<rect class="fr" x="303.8" y="33.0" width="213.40" height="184.0"/>
<text class="xl" x="317.99" y="236.7" text-anchor="middle">-15</text>
<text class="xl" x="348.82" y="236.7" text-anchor="middle">-10</text>
<text class="xl" x="379.66" y="236.7" text-anchor="middle">-5</text>
<text class="xl" x="410.50" y="236.7" text-anchor="middle">0</text>
<text class="xl" x="441.34" y="236.7" text-anchor="middle">5</text>
<text class="xl" x="472.18" y="236.7" text-anchor="middle">10</text>
<text class="xl" x="503.01" y="236.7" text-anchor="middle">15</text>
<text class="tl" x="78" y="221.60" text-anchor="end">0</text><text class="tl" x="78" y="181.60" text-anchor="end">500</text><text class="tl" x="78" y="141.60" text-anchor="end">1000</text><text class="tl" x="78" y="101.60" text-anchor="end">1500</text><text class="tl" x="78" y="61.60" text-anchor="end">2000</text>
<text x="313.5" y="264.8" text-anchor="middle" style="font-size:12.8px;stroke-width:0.1px">Time relative to sunrise [ h ]</text>
<text transform="translate(29.8,124.5) rotate(-90)" text-anchor="middle" style="font-size:12.65px;stroke-width:0.1px">Boundary Layer Height [ m agl ]</text>
<text x="191.9" y="53.6" text-anchor="middle" style="font-size:12.3px;stroke-width:0.15px">Winter</text>
<text x="410.5" y="53.6" text-anchor="middle" style="font-size:12.3px;stroke-width:0.15px">Summer</text>
<text class="lg" x="96" y="67.9">Mixed layer height</text>
<rect x="95.6" y="76.6" width="7" height="5.6" fill="#7ed6aa" stroke="#48e08e" stroke-width="1.3"/>
<text class="lg" x="111.2" y="82.9">CABAM</text>
<rect x="95.6" y="88.3" width="7" height="5.6" fill="#dcc4f4" stroke="#9f1ff0" stroke-width="1.5"/>
<text class="lg" x="111.2" y="93.9">STRATfinder</text>
<text class="lg" x="201.6" y="68.1">ABL height</text>
<line x1="199.9" y1="79.9" x2="217.8" y2="79.9" stroke="#6e6e6e" stroke-width="1.5"/>
<line x1="199.9" y1="79.9" x2="217.8" y2="79.9" stroke="#3def8c" stroke-width="1.6" stroke-dasharray="3 3"/>
<text class="lg" x="226" y="82.9">CABAM</text>
<line x1="199.9" y1="91.1" x2="217.8" y2="91.1" stroke="#6e6e6e" stroke-width="1.5"/>
<line x1="199.9" y1="91.1" x2="217.8" y2="91.1" stroke="#9b12ee" stroke-width="1.6" stroke-dasharray="3 3"/>
<text class="lg" x="226" y="93.9">STRATfinder</text>

<text class="sm" x="242.2" y="161.9" style="font-size:7.2px">q</text><text class="sm" x="246.2" y="163.9" style="font-size:5.2px">75</text>
<text class="sm" x="242.5" y="179.6" style="font-size:7.1px">median</text>
<text class="sm" x="242.4" y="192.8" style="font-size:7.2px">q</text><text class="sm" x="246.4" y="194.6" style="font-size:5.2px">25</text>
</svg>
</body></html>
